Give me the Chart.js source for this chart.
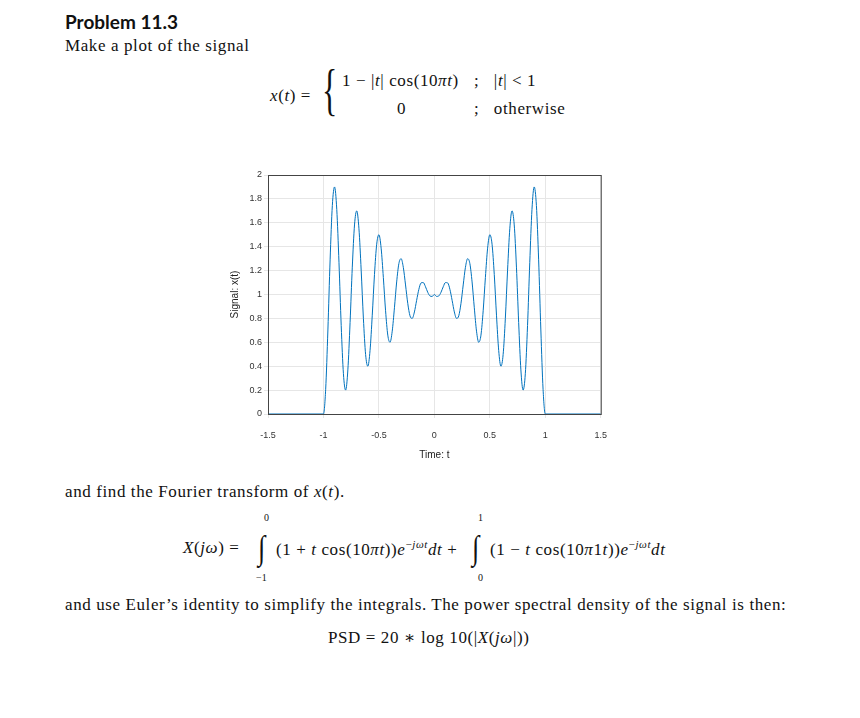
<!DOCTYPE html>
<html><head><meta charset="utf-8">
<script src="https://cdn.jsdelivr.net/npm/chart.js@4"></script>
<style>
body{margin:0;background:#fff;width:860px;height:718px;position:relative;font-family:"Liberation Serif","DejaVu Serif",serif;color:#111}
.a{position:absolute;white-space:nowrap}
.s{font-size:17px;letter-spacing:0.6px}
i{font-style:italic}
</style></head><body>
<div class="a" style="left:65px;top:10px;font:bold 19px Lato,'Liberation Sans',sans-serif">Problem 11.3</div>
<div class="a s" style="left:65px;top:36px">Make a plot of the signal</div>
<div class="a s" style="left:270px;top:86px"><i>x</i>(<i>t</i>) =</div>
<div class="a" style="left:322px;top:56px;font-size:58px;font-weight:100;transform:scaleX(0.55);transform-origin:left">{</div>
<div class="a s" style="left:342px;top:71px">1 − |<i>t</i>| cos(10<i>πt</i>)</div>
<div class="a s" style="left:397px;top:99px">0</div>
<div class="a s" style="left:474px;top:71px">;&nbsp;&nbsp;&nbsp;|<i>t</i>| &lt; 1</div>
<div class="a s" style="left:474px;top:99px">;&nbsp;&nbsp;&nbsp;otherwise</div>

<div class="a" style="left:225px;top:165px;width:394px;height:300px"><canvas id="c"></canvas></div>

<div class="a s" style="left:65px;top:482px">and find the Fourier transform of <i>x</i>(<i>t</i>).</div>
<div class="a" style="left:264px;top:512px;font-size:10px">0</div>
<div class="a" style="left:256px;top:572px;font-size:10px">−1</div>
<div class="a" style="left:478px;top:512px;font-size:10px">1</div>
<div class="a" style="left:478px;top:572px;font-size:10px">0</div>
<div class="a" style="left:258px;top:529px;font-size:26px;font-style:italic;transform:scaleY(1.3);transform-origin:top">∫</div>
<div class="a" style="left:472px;top:529px;font-size:26px;font-style:italic;transform:scaleY(1.3);transform-origin:top">∫</div>
<div class="a s" style="left:183px;top:538px"><i>X</i>(<i>jω</i>) =</div>
<div class="a s" style="left:276px;top:538px">(1 + <i>t</i> cos(10<i>πt</i>))<i>e</i><sup style="font-size:11px">−<i>jωt</i></sup><i>dt</i> +</div>
<div class="a s" style="left:490px;top:538px">(1 − <i>t</i> cos(10<i>π</i>1<i>t</i>))<i>e</i><sup style="font-size:11px">−<i>jωt</i></sup><i>dt</i></div>
<div class="a s" style="left:65px;top:595px">and use Euler’s identity to simplify the integrals. The power spectral density of the signal is then:</div>
<div class="a s" style="left:328px;top:627px">PSD = 20 ∗ log 10(|<i>X</i>(<i>jω</i>|))</div>

<script>
const tPos=[0,0.02,0.04,0.06,0.08,0.10,0.12,0.14,0.16,0.18,0.20,0.22,0.24,0.26,0.28,0.30,0.32,0.34,0.36,0.38,0.40,0.42,0.44,0.46,0.48,0.50,0.52,0.54,0.56,0.58,0.60,0.62,0.64,0.66,0.68,0.70,0.72,0.74,0.76,0.78,0.80,0.82,0.84,0.86,0.88,0.90,0.92,0.94,0.96,0.98,1.0];
const xPos=[1,0.984,0.988,1.019,1.065,1.10,1.097,1.043,0.951,0.854,0.80,0.822,0.926,1.080,1.227,1.30,1.259,1.105,0.889,0.693,0.60,0.660,0.864,1.142,1.388,1.50,1.421,1.167,0.827,0.531,0.40,0.498,0.802,1.204,1.550,1.70,1.582,1.229,0.765,0.369,0.20,0.337,0.740,1.266,1.712,1.90,1.744,1.290,0.703,0.207,0];
const outside=[[-1.5,0],[1.5,0]];
const pts=[{x:outside[0][0],y:outside[0][1]}];
for(let i=tPos.length-1;i>0;i--)pts.push({x:-tPos[i],y:xPos[i]});
for(let i=0;i<tPos.length;i++)pts.push({x:tPos[i],y:xPos[i]});
pts.push({x:outside[1][0],y:outside[1][1]});
const tf={size:9,family:"'Liberation Sans',Arial,sans-serif"};
const af={size:10,family:"'Liberation Sans',Arial,sans-serif"};
new Chart(document.getElementById('c'),{type:'line',
data:{datasets:[{data:pts,borderColor:'#0072BD',borderWidth:1,pointRadius:0,cubicInterpolationMode:'monotone'}]},
options:{responsive:true,maintainAspectRatio:false,animation:false,
layout:{padding:{top:10,right:10}},
plugins:{legend:{display:false},tooltip:{enabled:false}},
scales:{
x:{type:'linear',min:-1.5,max:1.5,afterFit:s=>{s.height=51},
 ticks:{stepSize:0.5,color:'#333',font:tf,padding:12,callback:v=>String(v)},
 grid:{color:'#e6e6e6',tickLength:4},border:{color:'#444'},
 title:{display:true,text:'Time: t',font:af,color:'#222',padding:{top:0,bottom:4}}},
y:{min:0,max:2,afterFit:s=>{s.width=43},
 ticks:{stepSize:0.2,color:'#333',font:tf,padding:2,callback:v=>String(Math.round(v*10)/10)},
 grid:{color:'#e6e6e6',tickLength:4},border:{color:'#444'},
 title:{display:true,text:'Signal: x(t)',font:af,color:'#222',padding:{top:4,bottom:0}}}
}},
plugins:[{id:'box',afterDraw(c){const a=c.chartArea,g=c.ctx;g.save();g.strokeStyle='#444';g.lineWidth=1;g.strokeRect(a.left+.5,a.top+.5,a.right-a.left,a.bottom-a.top);g.restore();}}]
});
</script>
</body></html>
